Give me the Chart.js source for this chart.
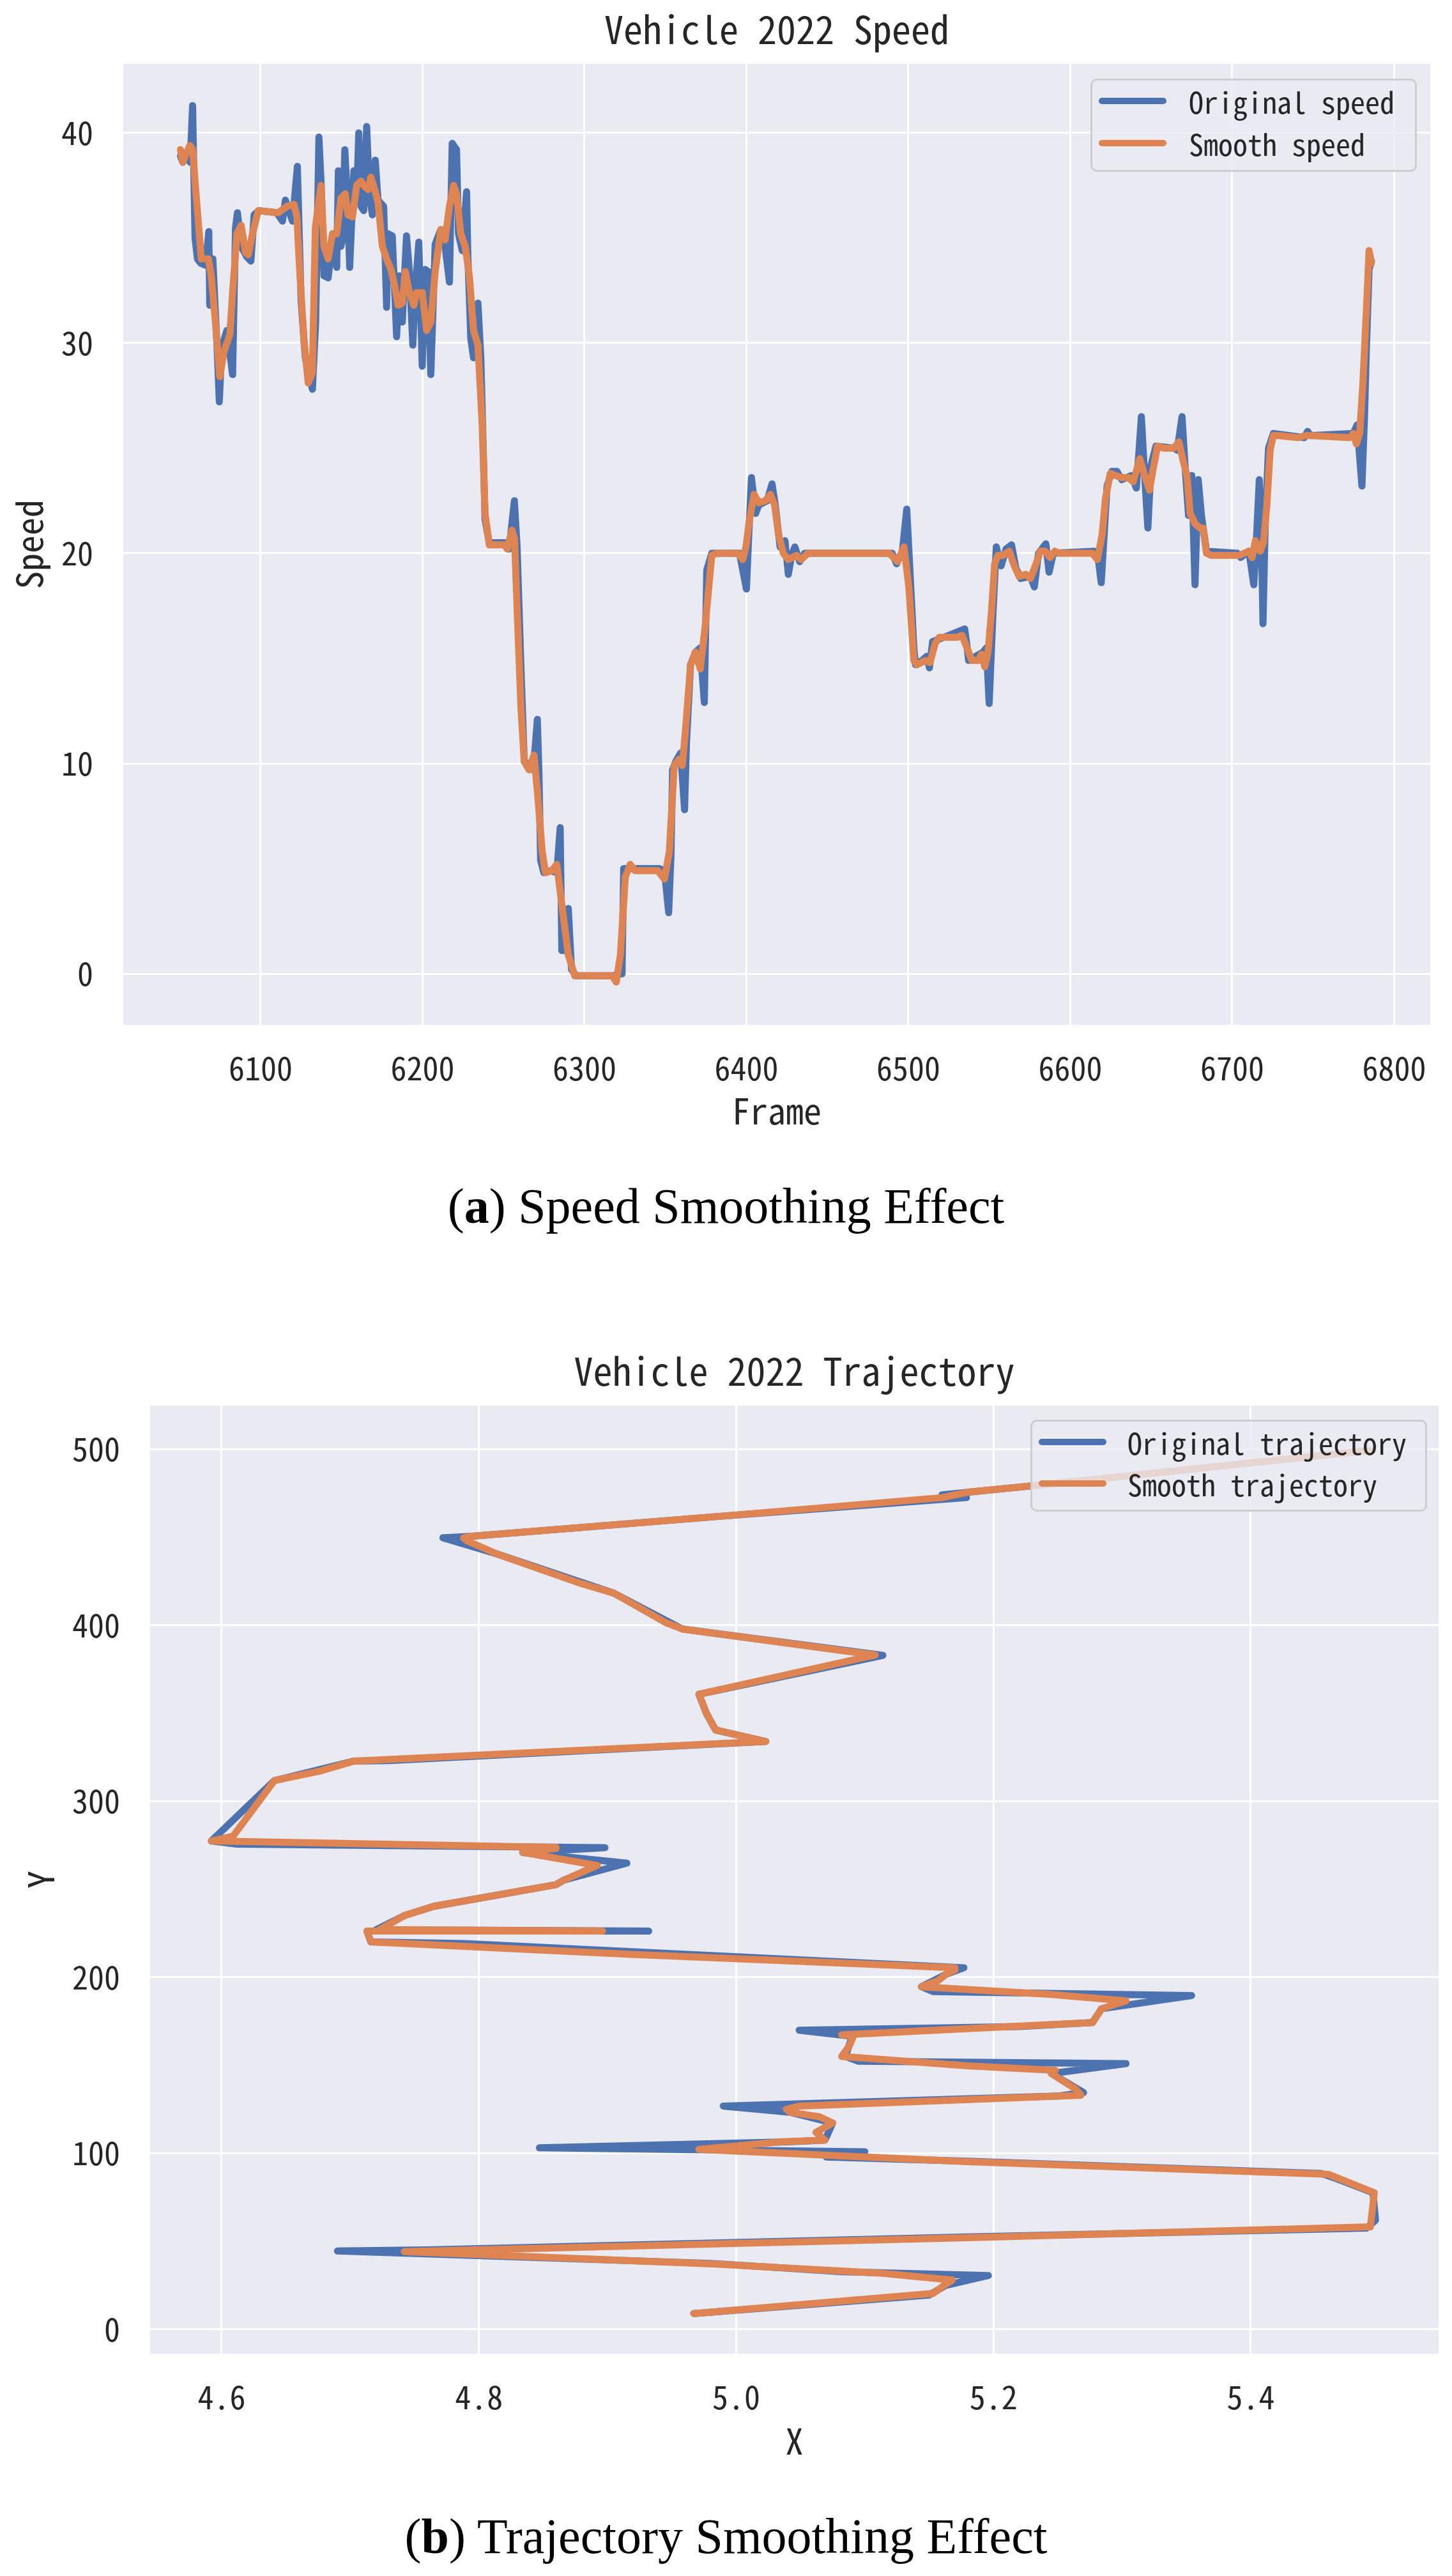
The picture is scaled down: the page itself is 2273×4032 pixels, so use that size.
<!DOCTYPE html>
<html>
<head>
<meta charset="utf-8">
<script src="https://cdn.jsdelivr.net/npm/chart.js@4.4.1/dist/chart.umd.min.js"></script>
<style>
  body { margin: 0; background: #ffffff; width: 2273px; height: 4032px; position: relative; overflow: hidden; }
  canvas { position: absolute; left: 0; }
  #graficaVelocidad { top: 0; }
  #graficaTrayectoria { top: 2050px; }
  .caja { position: absolute; box-sizing: border-box; border: 3px solid rgba(200, 200, 200, 0.85); border-radius: 10px; background: rgba(234, 234, 242, 0.8); }
  .fila { position: absolute; height: 60px; display: flex; align-items: center; }
  .linea { display: inline-block; width: 106px; height: 10px; border-radius: 5px; }
  .texto { font-family: 'Noto Sans Mono CJK SC', 'DejaVu Sans Mono', monospace; font-size: 46px; line-height: 60px; color: #262626; white-space: pre; }
  .pie { position: absolute; left: 0; width: 2273px; text-align: center; font-family: 'Liberation Serif', 'DejaVu Serif', serif; font-size: 78px; line-height: 78px; color: #000000; }
</style>
</head>
<body>
<canvas id="graficaVelocidad" width="2273" height="1772"></canvas>
<canvas id="graficaTrayectoria" width="2273" height="1804"></canvas>

<div class="caja" style="left:1707px; top:123px; width:511px; height:146px;"></div>
<div class="fila" style="left:1720px; top:128px;"><span class="linea" style="background:#4C72B0; margin-right:35px;"></span><span class="texto">Original speed</span></div>
<div class="fila" style="left:1720px; top:194px;"><span class="linea" style="background:#DD8452; margin-right:35px;"></span><span class="texto">Smooth speed</span></div>

<div class="caja" style="left:1613px; top:2222px; width:621px; height:144px;"></div>
<div class="fila" style="left:1626px; top:2227px;"><span class="linea" style="background:#4C72B0; margin-right:33px;"></span><span class="texto">Original trajectory</span></div>
<div class="fila" style="left:1626px; top:2292px;"><span class="linea" style="background:#DD8452; margin-right:33px;"></span><span class="texto">Smooth trajectory</span></div>

<div class="pie" style="top:1849px;">(<b>a</b>) Speed Smoothing Effect</div>
<div class="pie" style="top:3931px;">(<b>b</b>) Trajectory Smoothing Effect</div>

<script>
// Velocidad original (azul)
const framesOriginal = [
  6050.5, 6052, 6054, 6056.5, 6058, 6059.5, 6061, 6063, 6066, 6068,
  6068.6, 6070.5, 6073, 6074.5, 6076, 6079.2, 6082.7, 6084.5, 6085.7, 6088,
  6091.5, 6094, 6096, 6099, 6110, 6113.5, 6115.3, 6119.7, 6122.7, 6125,
  6127.6, 6132, 6134, 6136, 6137.5, 6139.1, 6141.7, 6144.4, 6147, 6148,
  6149.6, 6150.5, 6152, 6154, 6155, 6157.6, 6159.3, 6160.6, 6162, 6163.7,
  6165.5, 6167.2, 6169, 6170.8, 6172.5, 6176, 6177.8, 6178.7, 6181.3, 6184,
  6185.7, 6187.5, 6190.1, 6191.9, 6194, 6195.4, 6197.7, 6199.8, 6201.6, 6203.4,
  6205.1, 6207.8, 6211.3, 6213.9, 6216.6, 6218.3, 6221, 6222.2, 6224.5, 6227.2,
  6228, 6229.8, 6231.5, 6234.2, 6236, 6238.6, 6241.2, 6251.8, 6253.5, 6256.7,
  6258.4, 6260.8, 6262.8, 6265.8, 6268.4, 6270.9, 6271.9, 6272.9, 6274.9, 6278.9,
  6282.9, 6285, 6286, 6288, 6290, 6292, 6295, 6317, 6323.2, 6324.2,
  6327.2, 6346.3, 6349.4, 6352, 6353.4, 6354.4, 6356.4, 6359.4, 6361.8, 6363,
  6365.5, 6368.5, 6371.5, 6374, 6375.5, 6378.6, 6395.7, 6400, 6401.7, 6403.1,
  6405.7, 6407.7, 6412.8, 6415.8, 6417.8, 6420.8, 6423.8, 6425.9, 6427.9, 6429.9,
  6432.9, 6435.9, 6490, 6492.7, 6496.3, 6499, 6500.7, 6503.4, 6504.4, 6508.4,
  6511.4, 6513, 6515, 6522, 6534.8, 6536.2, 6537.2, 6546.2, 6548.2, 6549.9,
  6552.3, 6554.3, 6557.3, 6560.3, 6563.7, 6566.4, 6569.4, 6575.4, 6577.8, 6580.4,
  6584.9, 6586.9, 6589.5, 6614.7, 6617.3, 6619.1, 6620.7, 6622.7, 6625.7, 6628.8,
  6631.8, 6637.8, 6640.8, 6643.9, 6645.9, 6647.9, 6649.9, 6652.9, 6664, 6666,
  6669, 6671, 6673, 6675, 6677, 6679, 6681, 6684.1, 6703.2, 6705.2,
  6710.3, 6713.3, 6714.9, 6716.7, 6718.3, 6719, 6720.4, 6722.4, 6725.4, 6744.5,
  6746.5, 6748.5, 6774.7, 6777.1, 6780.1, 6781.7, 6782.8, 6784.5, 6786
];
const velocidadOriginal = [
  38.9, 38.6, 39.0, 38.6, 41.3, 35.0, 34.0, 33.8, 33.7, 35.3,
  31.8, 34.0, 30.0, 27.2, 29.8, 30.6, 28.5, 35.5, 36.2, 34.6,
  34.1, 33.9, 36.1, 36.3, 36.2, 35.8, 36.8, 35.8, 38.4, 32.0,
  29.3, 27.8, 31.0, 39.8, 37.4, 33.2, 33.1, 34.9, 33.6, 38.2,
  34.6, 34.9, 39.2, 36.3, 33.6, 38.2, 36.8, 40.0, 36.5, 36.3,
  40.3, 37.1, 36.1, 38.7, 36.8, 36.5, 31.7, 35.2, 35.1, 30.3,
  33.2, 31.0, 35.1, 33.4, 29.9, 32.4, 34.8, 28.9, 33.5, 33.4,
  28.5, 34.7, 35.4, 34.6, 32.9, 39.5, 39.2, 35.2, 34.4, 37.2,
  34.1, 30.2, 29.3, 31.9, 29.3, 21.6, 20.5, 20.5, 20.2, 22.5,
  20.3, 14.5, 10.1, 9.95, 9.7, 12.1, 9.5, 5.4, 4.8, 4.9,
  4.8, 6.95, 1.1, 1.1, 3.1, 0.2, -0.1, -0.1, 0.0, 5.0,
  5.0, 5.0, 4.9, 2.9, 5.6, 9.7, 10.1, 10.5, 7.8, 11.0,
  14.7, 15.3, 15.5, 12.9, 19.2, 20.0, 20.0, 18.3, 21.3, 23.6,
  21.9, 22.3, 22.5, 23.3, 22.3, 20.3, 20.6, 19.0, 19.9, 20.3,
  19.6, 20.0, 20.0, 19.5, 20.1, 22.1, 19.6, 15.5, 14.7, 14.9,
  15.1, 14.55, 15.8, 16.0, 16.4, 15.6, 14.9, 15.3, 15.5, 12.85,
  17.2, 20.3, 19.4, 20.2, 20.4, 19.3, 18.8, 18.9, 18.4, 20.0,
  20.45, 19.1, 20.0, 20.1, 19.7, 18.6, 20.6, 23.2, 23.9, 23.9,
  23.5, 23.7, 23.1, 26.5, 23.7, 21.2, 24.2, 25.1, 25.0, 24.9,
  26.5, 24.0, 21.8, 23.7, 18.5, 23.5, 21.8, 20.1, 20.0, 19.8,
  20.1, 18.5, 20.6, 23.5, 19.5, 16.65, 21.5, 25.0, 25.7, 25.5,
  25.8, 25.6, 25.7, 26.1, 23.2, 26.5, 29.6, 33.5, 33.9
];

// Velocidad suavizada (naranja)
const framesSuave = [
  6050.5, 6051.9, 6054.6, 6056.3, 6058.1, 6059.8, 6063.4, 6066, 6067.8, 6069.5,
  6072.2, 6074.8, 6077.4, 6079.2, 6081, 6082.7, 6085.4, 6088, 6090.7, 6092.4,
  6095, 6098.6, 6110.9, 6116.2, 6120.6, 6122.4, 6124.1, 6126.8, 6129.4, 6132,
  6133.8, 6137.3, 6139.1, 6141.7, 6144.4, 6147, 6149.6, 6152.3, 6154, 6156.7,
  6159.3, 6162, 6163.7, 6166.4, 6168.1, 6170.8, 6172.5, 6175.2, 6177.8, 6180.5,
  6183.1, 6184.9, 6187.5, 6189.3, 6191.9, 6194.6, 6196.3, 6199.8, 6202.5, 6205.1,
  6207.8, 6211.3, 6213.9, 6216.6, 6219.2, 6221, 6223.6, 6226.3, 6228.9, 6231.5,
  6234.2, 6236.8, 6238.6, 6241.2, 6250.7, 6252.3, 6255.2, 6256.8, 6258.8, 6260.8,
  6262.8, 6265.8, 6268.8, 6270.9, 6273.9, 6275.9, 6279.9, 6282.9, 6286, 6290,
  6294, 6317.2, 6319.6, 6322.2, 6325.2, 6328.2, 6331.2, 6345.3, 6349.4, 6352.4,
  6355.4, 6358.4, 6360.4, 6362.4, 6365.5, 6368.5, 6371.5, 6374.5, 6378.6, 6381.6,
  6394.7, 6397.7, 6399.7, 6401.7, 6404.7, 6407.7, 6411.8, 6414.8, 6417.4, 6419.8,
  6422.8, 6425.9, 6430.9, 6433.9, 6437.9, 6488.3, 6493.3, 6497.3, 6500.3, 6503.4,
  6505.4, 6510.4, 6513.4, 6516.5, 6519, 6530.1, 6533.1, 6536.2, 6539.2, 6543.2,
  6545.2, 6547.2, 6549.2, 6551.3, 6553.3, 6555.3, 6558.3, 6562.3, 6565.4, 6568.4,
  6572.4, 6575.4, 6578.4, 6581.5, 6584.5, 6587.5, 6590.5, 6593.5, 6613.7, 6616.7,
  6619.7, 6621.7, 6624.7, 6627.8, 6631.8, 6635.8, 6638.8, 6640.8, 6642.9, 6645.9,
  6648.9, 6650.9, 6653.9, 6658, 6664, 6667, 6670, 6672, 6674, 6677.1,
  6680.1, 6682.1, 6684.1, 6687.1, 6704.2, 6710.3, 6712.3, 6714.3, 6717.3, 6719.3,
  6721.4, 6723.4, 6725.4, 6728.4, 6740.5, 6745.5, 6748.5, 6772.7, 6774.7, 6776.7,
  6778.7, 6780.7, 6782.8, 6784.5, 6786
];
const velocidadSuave = [
  39.2, 38.6, 39.1, 39.4, 39.2, 37.4, 34.0, 34.0, 34.0, 33.2,
  30.9, 28.4, 29.6, 30.0, 30.4, 32.4, 35.2, 35.6, 34.3, 34.2,
  35.2, 36.3, 36.2, 36.5, 36.6, 36.0, 33.5, 30.1, 28.1, 28.6,
  35.5, 37.5, 34.6, 34.0, 35.2, 35.2, 36.9, 37.1, 36.1, 36.0,
  37.5, 37.7, 37.5, 37.3, 37.9, 37.2, 36.7, 34.6, 34.0, 33.5,
  32.6, 31.8, 31.9, 33.4, 32.4, 31.8, 32.4, 32.4, 30.6, 31.0,
  33.4, 35.4, 34.9, 36.5, 37.5, 37.1, 35.2, 34.6, 33.2, 30.6,
  29.9, 26.2, 21.9, 20.4, 20.4, 20.2, 21.1, 20.7, 16.5, 12.6,
  10.1, 9.7, 10.4, 8.7, 5.8, 4.8, 4.9, 5.2, 3.3, 0.9,
  -0.1, -0.1, -0.4, 0.9, 4.6, 5.2, 4.9, 4.9, 4.5, 5.8,
  9.9, 10.2, 9.9, 11.6, 14.7, 15.3, 14.5, 16.5, 19.9, 20.0,
  20.0, 19.7, 20.3, 21.5, 22.8, 22.4, 22.5, 22.8, 22.3, 20.9,
  20.0, 19.7, 19.9, 19.7, 20.0, 20.0, 19.6, 20.3, 18.4, 14.9,
  14.7, 14.9, 14.8, 15.7, 16.0, 16.0, 16.1, 15.5, 14.9, 14.9,
  15.2, 14.6, 15.3, 17.2, 19.5, 19.9, 19.9, 20.1, 19.4, 18.9,
  19.0, 18.8, 19.4, 20.1, 20.1, 19.8, 20.1, 20.0, 20.0, 19.7,
  20.9, 22.6, 23.8, 23.7, 23.6, 23.6, 23.4, 23.9, 24.5, 23.7,
  23.0, 23.9, 25.1, 25.0, 25.0, 25.3, 24.3, 23.7, 21.9, 21.4,
  21.2, 21.2, 20.0, 19.9, 19.9, 20.1, 19.8, 20.6, 20.1, 20.5,
  22.3, 24.9, 25.6, 25.6, 25.5, 25.6, 25.6, 25.5, 25.7, 25.2,
  25.7, 28.1, 31.5, 34.4, 33.8
];

// Trayectoria original (azul)
const xTrayOriginal = [
  4.967, 5.150, 5.163, 5.196, 5.082, 4.980, 4.690, 4.760, 5.180, 5.490,
  5.497, 5.495, 5.467, 5.455, 5.180, 5.070, 5.100, 4.847, 5.040, 5.069,
  5.075, 5.042, 4.990, 5.250, 5.270, 5.245, 5.303, 5.095, 5.085, 5.090,
  5.049, 5.220, 5.277, 5.284, 5.354, 5.153, 5.144, 5.163, 5.177, 4.788,
  4.716, 4.713, 4.932, 4.720, 4.742, 4.765, 4.860, 4.866, 4.915, 4.834,
  4.898, 4.612, 4.592, 4.641, 4.703, 4.730, 5.023, 4.984, 4.977, 4.971,
  5.114, 4.958, 4.905, 4.814, 4.772, 4.795, 4.984, 5.179, 5.160, 5.245,
  5.486
];
const yTrayOriginal = [
  9.0, 19.5, 25.0, 30.6, 32.7, 37.5, 44.5, 45.2, 52.5, 57.5,
  62.0, 77.6, 85.5, 88.5, 95.5, 97.9, 100.9, 103.1, 106.5, 107.5,
  117.2, 123.3, 126.8, 132.5, 134.5, 145.3, 150.9, 152.3, 155.0, 166.4,
  169.9, 172.0, 174.3, 182.1, 189.6, 191.9, 194.6, 201.6, 205.4, 219.2,
  220.1, 226.2, 226.2, 227.0, 235.0, 240.3, 252.6, 255.2, 264.8, 270.9,
  273.6, 275.6, 277.4, 311.7, 322.8, 323.0, 333.9, 340.4, 349.6, 360.7,
  382.8, 397.8, 418.1, 440.4, 449.6, 450.5, 461.6, 472.4, 474.0, 480.2,
  498.7
];

// Trayectoria suavizada (naranja)
const xTraySuave = [
  4.967, 5.153, 5.163, 5.168, 5.114, 4.984, 4.742, 5.180, 5.493, 5.496,
  5.466, 5.460, 5.180, 4.971, 5.036, 5.069, 5.062, 5.075, 5.065, 5.042,
  5.039, 5.049, 5.268, 5.264, 5.245, 5.248, 5.180, 5.082, 5.088, 5.091,
  5.082, 5.180, 5.277, 5.284, 5.303, 5.245, 5.144, 5.157, 5.163, 5.170,
  5.170, 4.918, 4.716, 4.713, 4.896, 4.723, 4.742, 4.765, 4.860, 4.866,
  4.892, 4.834, 4.860, 4.860, 4.592, 4.609, 4.641, 4.677, 4.703, 5.023,
  4.984, 4.977, 4.971, 5.108, 4.958, 4.945, 4.905, 4.879, 4.814, 4.791,
  4.788, 4.795, 4.984, 5.160, 5.180, 5.245, 5.486, 5.493
];
const yTraySuave = [
  9.0, 20.4, 25.7, 28.0, 31.8, 37.1, 44.2, 52.1, 58.2, 77.6,
  86.4, 88.1, 95.2, 102.2, 106.6, 107.5, 111.9, 117.2, 120.7, 123.3,
  125.0, 126.8, 133.0, 136.5, 145.3, 147.1, 149.7, 155.0, 161.1, 166.4,
  167.3, 170.8, 174.3, 182.1, 186.6, 190.2, 194.6, 198.1, 201.6, 204.2,
  205.4, 213.0, 220.1, 226.2, 226.2, 227.1, 235.0, 240.3, 252.6, 255.2,
  263.5, 270.9, 273.2, 273.8, 277.4, 280.2, 311.7, 317.2, 322.8, 333.9,
  340.4, 349.6, 360.7, 383.0, 397.8, 401.5, 418.1, 423.7, 440.4, 447.8,
  449.6, 450.5, 461.6, 472.4, 475.5, 480.2, 498.7, 499.0
];

// Marcas de los ejes
const ticksFrame = [6100, 6200, 6300, 6400, 6500, 6600, 6700, 6800];
const ticksVelocidad = [0, 10, 20, 30, 40];
const ticksX = [4.6, 4.8, 5.0, 5.2, 5.4];
const ticksY = [0, 100, 200, 300, 400, 500];

const azul = '#4C72B0';
const naranja = '#DD8452';
const colorTexto = '#262626';

Chart.defaults.font.family = "'Noto Sans Mono CJK SC', 'DejaVu Sans Mono', monospace";
Chart.defaults.color = colorTexto;

function combinar(xs, ys) {
    let puntos = [];
    for (let i = 0; i < Math.min(xs.length, ys.length); i++) {
        puntos.push({ x: xs[i], y: ys[i] });
    }
    return puntos;
}

// Fondo gris tipo seaborn dentro del area de la grafica
const fondoGris = {
    id: 'fondoGris',
    beforeDraw(chart) {
        const a = chart.chartArea;
        chart.ctx.save();
        chart.ctx.fillStyle = '#EAEAF2';
        chart.ctx.fillRect(a.left, a.top, a.right - a.left, a.bottom - a.top);
        chart.ctx.restore();
    }
};

function serie(etiqueta, puntos, color, orden) {
    return {
        label: etiqueta,
        data: puntos,
        borderColor: color,
        backgroundColor: color,
        borderWidth: 11,
        borderJoinStyle: 'round',
        borderCapStyle: 'round',
        pointRadius: 0,
        showLine: true,
        tension: 0,
        order: orden
    };
}

function crearGrafica(id, cfg) {
    return new Chart(document.getElementById(id), {
        type: 'scatter',
        data: { datasets: cfg.series },
        plugins: [fondoGris],
        options: {
            responsive: false,
            animation: false,
            layout: { padding: { left: 0, right: cfg.derecha, top: 0, bottom: 0 } },
            plugins: {
                legend: { display: false },
                tooltip: { enabled: false },
                title: {
                    display: true,
                    text: cfg.titulo,
                    fullSize: false,
                    color: colorTexto,
                    font: { size: 60, weight: 'normal', lineHeight: 1.2 },
                    padding: cfg.paddingTitulo
                }
            },
            scales: {
                x: {
                    type: 'linear',
                    min: cfg.xMin,
                    max: cfg.xMax,
                    afterBuildTicks: function (eje) { eje.ticks = cfg.ticksX.map(v => ({ value: v })); },
                    afterFit: function (eje) { eje.height = cfg.altoX; },
                    grid: { color: '#ffffff', lineWidth: 3, drawTicks: false },
                    border: { display: false },
                    ticks: { padding: 38, font: { size: 50 }, color: colorTexto, callback: cfg.formatoX },
                    title: { display: true, text: cfg.nombreX, color: colorTexto, font: { size: 56 }, padding: { top: 0, bottom: 0 } }
                },
                y: {
                    type: 'linear',
                    min: cfg.yMin,
                    max: cfg.yMax,
                    afterBuildTicks: function (eje) { eje.ticks = cfg.ticksY.map(v => ({ value: v })); },
                    afterFit: function (eje) { eje.width = cfg.anchoY; },
                    grid: { color: '#ffffff', lineWidth: 3, drawTicks: false },
                    border: { display: false },
                    ticks: { padding: 47, font: { size: 50 }, color: colorTexto, callback: v => String(v) },
                    title: { display: true, text: cfg.nombreY, color: colorTexto, font: { size: 56 }, padding: { top: cfg.paddingTituloY, bottom: 0 } }
                }
            }
        }
    });
}

crearGrafica('graficaVelocidad', {
    titulo: 'Vehicle 2022 Speed',
    series: [
        serie('Original speed', combinar(framesOriginal, velocidadOriginal), azul, 2),
        serie('Smooth speed', combinar(framesSuave, velocidadSuave), naranja, 1)
    ],
    derecha: 34,
    paddingTitulo: { top: 10, bottom: 18 },
    xMin: 6015.2, xMax: 6822.3, ticksX: ticksFrame, altoX: 168, nombreX: 'Frame',
    formatoX: v => String(v),
    yMin: -2.43, yMax: 43.28, ticksY: ticksVelocidad, anchoY: 193, nombreY: 'Speed', paddingTituloY: 12
});

crearGrafica('graficaTrayectoria', {
    titulo: 'Vehicle 2022 Trajectory',
    series: [
        serie('Original trajectory', combinar(xTrayOriginal, yTrayOriginal), azul, 2),
        serie('Smooth trajectory', combinar(xTraySuave, yTraySuave), naranja, 1)
    ],
    derecha: 21,
    paddingTitulo: { top: 60, bottom: 18 },
    xMin: 4.5444, xMax: 5.546, ticksX: ticksX, altoX: 170, nombreX: 'X',
    formatoX: v => Number(v).toFixed(1),
    yMin: -13.8, yMax: 524.7, ticksY: ticksY, anchoY: 235, nombreY: 'Y', paddingTituloY: 30
});
</script>
</body>
</html>
